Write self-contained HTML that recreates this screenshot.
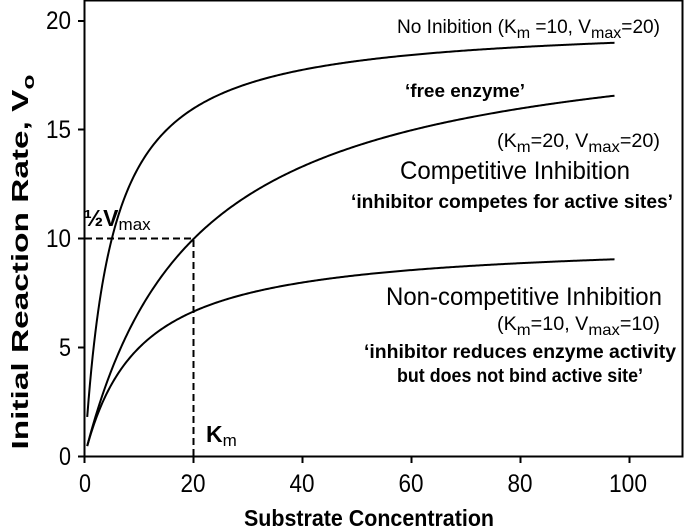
<!DOCTYPE html>
<html><head><meta charset="utf-8"><style>
html,body{margin:0;padding:0;background:#fff}
svg{display:block;font-family:"Liberation Sans",Arial,sans-serif}
</style></head><body>
<svg id="s" width="684" height="530" viewBox="0 0 684 530" xmlns="http://www.w3.org/2000/svg">
<rect x="84.5" y="0.5" width="598" height="456" fill="none" stroke="#000" stroke-width="2"/>
<g stroke="#000" stroke-width="2">
<line x1="78" y1="456.5" x2="84" y2="456.5"/><line x1="78" y1="347.5" x2="84" y2="347.5"/>
<line x1="78" y1="238.5" x2="84" y2="238.5"/><line x1="78" y1="129.5" x2="84" y2="129.5"/>
<line x1="78" y1="21" x2="84" y2="21"/>
<line x1="84.5" y1="456" x2="84.5" y2="463"/><line x1="193.5" y1="456" x2="193.5" y2="463"/>
<line x1="302.5" y1="456" x2="302.5" y2="463"/><line x1="411.5" y1="456" x2="411.5" y2="463"/>
<line x1="520.5" y1="456" x2="520.5" y2="463"/><line x1="629.5" y1="456" x2="629.5" y2="463"/>
</g>
<g font-size="25" text-anchor="end">
<text x="71" y="465" textLength="12" lengthAdjust="spacingAndGlyphs">0</text>
<text x="71" y="356" textLength="12" lengthAdjust="spacingAndGlyphs">5</text>
<text x="71" y="247" textLength="25" lengthAdjust="spacingAndGlyphs">10</text>
<text x="71" y="138" textLength="25" lengthAdjust="spacingAndGlyphs">15</text>
<text x="71" y="29" textLength="25" lengthAdjust="spacingAndGlyphs">20</text>
</g>
<g font-size="25" text-anchor="middle">
<text x="85" y="492" textLength="12" lengthAdjust="spacingAndGlyphs">0</text>
<text x="193" y="492" textLength="25" lengthAdjust="spacingAndGlyphs">20</text>
<text x="302" y="492" textLength="25" lengthAdjust="spacingAndGlyphs">40</text>
<text x="411" y="492" textLength="25" lengthAdjust="spacingAndGlyphs">60</text>
<text x="520" y="492" textLength="25" lengthAdjust="spacingAndGlyphs">80</text>
<text x="628" y="492" textLength="38" lengthAdjust="spacingAndGlyphs">100</text>
</g>
<text x="369" y="526" font-size="23" font-weight="bold" text-anchor="middle" textLength="250" lengthAdjust="spacingAndGlyphs">Substrate Concentration</text>
<text transform="translate(28,262) rotate(-90)" font-size="23" font-weight="bold" text-anchor="middle" textLength="375" lengthAdjust="spacingAndGlyphs">Initial Reaction Rate, V<tspan font-size="17" dy="6">o</tspan></text>
<g stroke="#000" stroke-width="2" stroke-dasharray="7,4" fill="none">
<path d="M85 238.5 H193.5 V456"/>
</g>
<g id="curves" fill="none" stroke="#000" stroke-width="2"></g>
<text x="660" y="33" font-size="19" text-anchor="end" textLength="263" lengthAdjust="spacingAndGlyphs">No Inibition (K<tspan font-size="16" dy="5">m</tspan><tspan dy="-5"> =10, V</tspan><tspan font-size="16" dy="5">max</tspan><tspan dy="-5">=20)</tspan></text>
<text x="465" y="97" font-size="18" font-weight="bold" text-anchor="middle" textLength="120" lengthAdjust="spacingAndGlyphs">‘free enzyme’</text>
<text x="660" y="147" font-size="19" text-anchor="end" textLength="163" lengthAdjust="spacingAndGlyphs">(K<tspan font-size="16" dy="5">m</tspan><tspan dy="-5">=20, V</tspan><tspan font-size="16" dy="5">max</tspan><tspan dy="-5">=20)</tspan></text>
<text x="515" y="179" font-size="25" text-anchor="middle" textLength="230" lengthAdjust="spacingAndGlyphs">Competitive Inhibition</text>
<text x="512" y="208" font-size="19" font-weight="bold" text-anchor="middle" textLength="322" lengthAdjust="spacingAndGlyphs">‘inhibitor competes for active sites’</text>
<text x="84" y="226" font-size="23" font-weight="bold">½V<tspan font-size="17" font-weight="normal" dy="4">max</tspan></text>
<text x="524" y="305" font-size="25" text-anchor="middle" textLength="276" lengthAdjust="spacingAndGlyphs">Non-competitive Inhibition</text>
<text x="660" y="330" font-size="19" text-anchor="end" textLength="163" lengthAdjust="spacingAndGlyphs">(K<tspan font-size="16" dy="5">m</tspan><tspan dy="-5">=10, V</tspan><tspan font-size="16" dy="5">max</tspan><tspan dy="-5">=10)</tspan></text>
<text x="520" y="358" font-size="19" font-weight="bold" text-anchor="middle" textLength="312" lengthAdjust="spacingAndGlyphs">‘inhibitor reduces enzyme activity</text>
<text x="520" y="382" font-size="19" font-weight="bold" text-anchor="middle" textLength="246" lengthAdjust="spacingAndGlyphs">but does not bind active site’</text>
<text x="206" y="442" font-size="23" font-weight="bold">K<tspan font-size="17" font-weight="normal" dy="4">m</tspan></text>
</svg>
<script>
(function(){
var g=document.getElementById('curves');
function X(s){return 84.5+s*5.45;}function Y(v){return 456.5-v*21.75;}
function mk(V,K,s0){var d='';for(var s=s0;s<=97.3;s+=0.25){var v=V*s/(K+s);d+=(d?'L':'M')+X(s).toFixed(2)+' '+Y(v).toFixed(2);}
var p=document.createElementNS('http://www.w3.org/2000/svg','path');p.setAttribute('d',d);g.appendChild(p);}
mk(20,5,0.5);mk(20,20,0.5);mk(10,10,0.5);
})();
</script>
</body></html>
